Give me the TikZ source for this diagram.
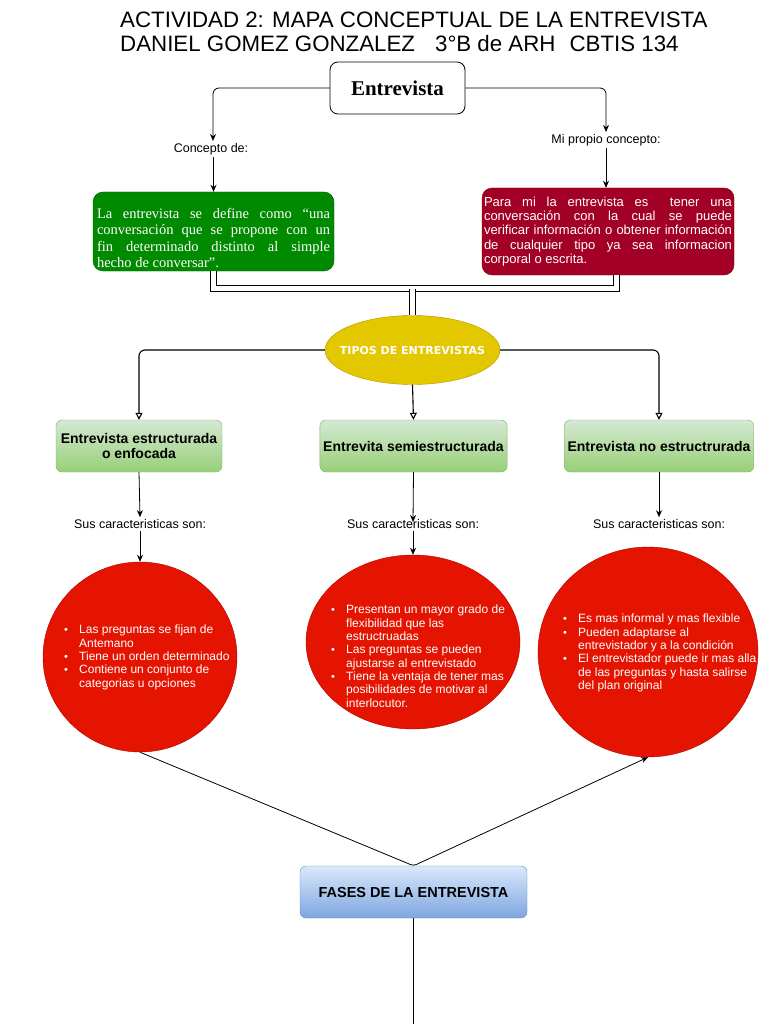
\documentclass[tikz,border=0pt]{standalone}
\usepackage{fontspec}
\setmainfont{Liberation Sans}
\newfontfamily\serifface{Liberation Serif}
\newfontfamily\dvface{DejaVu Sans}
\usetikzlibrary{shapes.geometric,arrows.meta}
\definecolor{gfill}{HTML}{008A00}
\definecolor{gedge}{HTML}{005700}
\definecolor{rfill}{HTML}{A20025}
\definecolor{redge}{HTML}{6F0000}
\definecolor{cfill}{HTML}{E51400}
\definecolor{cedge}{HTML}{B20000}
\definecolor{yfill}{HTML}{E3C800}
\definecolor{yedge}{HTML}{B09500}
\definecolor{lgtop}{HTML}{D5E8D4}
\definecolor{lgbot}{HTML}{97D077}
\definecolor{lgedge}{HTML}{82B366}
\definecolor{bltop}{HTML}{DAE8FC}
\definecolor{blbot}{HTML}{7EA6E0}
\definecolor{bledge}{HTML}{6C8EBF}
\newcommand\mybul[1]{\makebox[15pt][l]{\fontsize{11}{11}\selectfont\textbullet}#1}
\newcommand\mycont[1]{\hspace*{15pt}#1}
\tikzset{
  arr/.style={-{Stealth[length=7pt,width=6pt]}, line width=0.8pt},
  sk/.style={-{Triangle[open,length=7pt,width=7pt]}, line width=1.1pt, rounded corners=6pt},
  dbl/.style={double, double distance=5.5pt, line width=0.7pt},
  lbl/.style={font=\fontsize{12.5}{15}\selectfont, inner sep=2pt},
  gradbox/.style={rounded corners=6pt, draw=lgedge, top color=lgtop, bottom color=lgbot,
    minimum height=52pt, align=center, font=\bfseries\fontsize{14}{15.5}\selectfont},
  circ/.style={ellipse, fill=cfill, draw=cedge, line width=0.4pt, inner sep=0},
  ctext/.style={align=left, text=white, inner sep=0, font=\fontsize{12}{13.3}\selectfont},
  ttl/.style={anchor=base west, inner sep=0, font=\fontsize{22.3}{26}\selectfont}
}
\begin{document}
\begin{tikzpicture}[x=1pt,y=-1pt]
\useasboundingbox[fill=white] (0,0) rectangle (768,1024);

% title
\node[ttl] (title1) at (120,28) {ACTIVIDAD 2: MAPA CONCEPTUAL DE LA ENTREVISTA};
\node[ttl] (title2) at (120,52) {DANIEL GOMEZ GONZALEZ\hspace{20pt}3°B de ARH\hspace{14pt}CBTIS 134};

% top
\node[draw, fill=white, rounded corners=8pt, line width=0.8pt, minimum width=135pt, minimum height=52pt,
  font=\serifface\bfseries\fontsize{21}{24}\selectfont] (ent) at (397.5,88) {Entrevista};
\node[lbl] (con) at (211,149) {Concepto de:};
\node[lbl] (mi) at (606,140) {Mi propio concepto:};

\node[rounded corners=10pt, fill=gfill, draw=gedge, minimum width=241pt, minimum height=79pt] (gb) at (213.5,231.5) {};
\node[text width=233pt, align=justify, text=white, inner sep=0,
  font=\serifface\fontsize{14.5}{16.6}\selectfont] (gt) at (213.5,238)
  {La entrevista se define como “una\linebreak conversación que se propone con un\linebreak fin determinado distinto al simple\linebreak hecho de conversar”.};

\node[rounded corners=10pt, fill=rfill, draw=redge, minimum width=252pt, minimum height=87pt,
  text width=248pt, align=justify, inner sep=2pt, text=white,
  font=\fontsize{13}{14.2}\selectfont] (rb) at (608,231.5)
  {Para mi la entrevista es\ \ tener una\linebreak conversación con la cual se puede\linebreak verificar información o obtener información\linebreak de cualquier tipo ya sea informacion\linebreak corporal o escrita.};

\draw[arr, rounded corners=6pt] (ent.west) -| ([xshift=2pt]con.north);
\draw[arr, rounded corners=6pt] (ent.east) -| (mi.north);
\draw[arr] (gb.north |- con.south) -- (gb.north);
\draw[arr] (mi.south) -- (mi.south |- rb.north);

% ellipse
\node[ellipse, fill=yfill, draw=yedge, minimum width=175pt, minimum height=69pt, inner sep=0] (tip) at (412.5,350) {};
\node[text=white, inner sep=0, font=\dvface\bfseries\fontsize{11}{13}\selectfont] (tiptext) at (tip.center) {TIPOS DE ENTREVISTAS};

% double connector
\coordinate (jl) at (213.5,288.5);
\coordinate (jr) at (616.5,288.5);
\draw[dbl] (gb.south) -- (jl) -- (jr) -- ([xshift=8.5pt]rb.south);
\draw[dbl] (jl -| tip.north) -- (tip.north);

% types
\node[gradbox, minimum width=166pt] (b1) at (139,446) {Entrevista estructurada\\o enfocada};
\node[gradbox, minimum width=185pt] (b2) at (413.5,446) {Entrevita semiestructurada};
\node[gradbox, minimum width=186pt] (b3) at (659,446) {Entrevista no estructrurada};

\draw[sk] (tip.west) -| (b1.north);
\draw[sk] (tip.south) -- (b2.north);
\draw[sk] (tip.east) -| (b3.north);

\node[lbl] (sus1) at (140,524) {Sus caracteristicas son:};
\node[lbl] (sus2) at (413,524) {Sus caracteristicas son:};
\node[lbl] (sus3) at (659,524) {Sus caracteristicas son:};

\draw[arr] (b1.south) -- (sus1.north);
\draw[arr] (b2.south) -- ([yshift=2pt]sus2.center);
\draw[arr] (b3.south) -- (sus3.north);

% circles
\node[circ, minimum width=194pt, minimum height=190pt] (c1) at (140,657) {};
\node[circ, minimum width=214pt, minimum height=174pt] (c2) at (413,642) {};
\node[circ, minimum width=220pt, minimum height=210pt] (c3) at (648,652) {};

\draw[arr] (sus1.south) -- (c1.north);
\draw[arr] (sus2.south) -- (c2.north);

\node[ctext, anchor=north west] (t1) at (64,625)
 {\mybul{Las preguntas se fijan de}\\\mycont{Antemano}\\\mybul{Tiene un orden determinado}\\
  \mybul{Contiene un conjunto de}\\\mycont{categorias u opciones}};
\node[ctext, anchor=north west] (t2) at (331,605)
 {\mybul{Presentan un mayor grado de}\\\mycont{flexibilidad que las}\\\mycont{estructruadas}\\
  \mybul{Las preguntas se pueden}\\\mycont{ajustarse al entrevistado}\\
  \mybul{Tiene la ventaja de tener mas}\\\mycont{posibilidades de motivar al}\\\mycont{interlocutor.}};
\node[ctext, anchor=north west] (t3) at (563,614)
 {\mybul{Es mas informal y mas flexible}\\\mybul{Pueden adaptarse al}\\\mycont{entrevistador y a la condición}\\
  \mybul{El entrevistador puede ir mas alla}\\\mycont{de las preguntas y hasta salirse}\\\mycont{del plan original}};

% fases
\node[rounded corners=6pt, draw=bledge, top color=bltop, bottom color=blbot, minimum width=227pt, minimum height=52pt,
  font=\bfseries\fontsize{14.5}{17}\selectfont] (fases) at (413.5,892) {FASES DE LA ENTREVISTA};
\draw[arr, rounded corners=3pt] (c1.south) -- (fases.north) -- (c3.south);
\coordinate (bot) at (413.5,1024);
\draw[line width=0.8pt] (fases.south) -- (bot);
\end{tikzpicture}
\end{document}
